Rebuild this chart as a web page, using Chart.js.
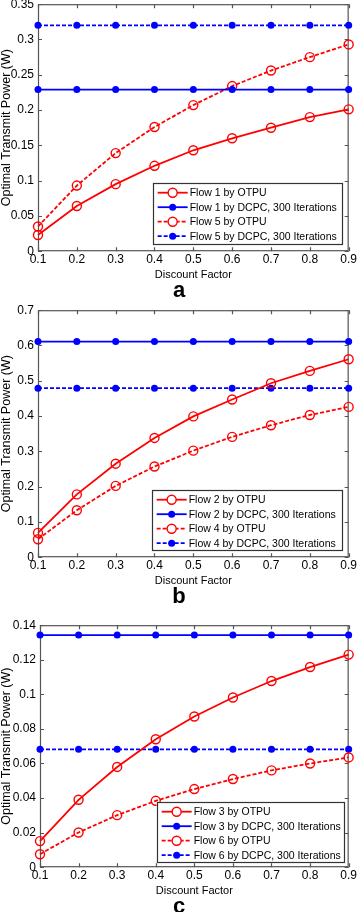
<!DOCTYPE html>
<html>
<head>
<meta charset="utf-8">
<script src="https://cdn.jsdelivr.net/npm/chart.js@4.4.1/dist/chart.umd.min.js"></script>
<style>
  html, body { margin: 0; padding: 0; background: #fff; overflow: hidden; }
  .panel { position: absolute; left: 0; width: 358px; }
</style>
</head>
<body>
<div class="panel" style="top:-7px;height:312px"><canvas id="chartA"></canvas></div>
<div class="panel" style="top:299px;height:312px"><canvas id="chartB"></canvas></div>
<div class="panel" style="top:614px;height:307px"><canvas id="chartC"></canvas></div>
<script>
// x values shared by all three panels
const discountFactor = [0.1, 0.2, 0.3, 0.4, 0.5, 0.6, 0.7, 0.8, 0.9];

// panel a
const flow1Otpu = [0.023, 0.064, 0.095, 0.121, 0.143, 0.160, 0.175, 0.190, 0.201];
const flow1Dcpc = [0.229, 0.229, 0.229, 0.229, 0.229, 0.229, 0.229, 0.229, 0.229];
const flow5Otpu = [0.035, 0.093, 0.139, 0.176, 0.207, 0.234, 0.256, 0.275, 0.293];
const flow5Dcpc = [0.320, 0.320, 0.320, 0.320, 0.320, 0.320, 0.320, 0.320, 0.320];

// panel b
const flow2Otpu = [0.069, 0.178, 0.265, 0.338, 0.399, 0.447, 0.493, 0.528, 0.561];
const flow2Dcpc = [0.611, 0.611, 0.611, 0.611, 0.611, 0.611, 0.611, 0.611, 0.611];
const flow4Otpu = [0.051, 0.133, 0.202, 0.257, 0.302, 0.341, 0.374, 0.403, 0.426];
const flow4Dcpc = [0.479, 0.479, 0.479, 0.479, 0.479, 0.479, 0.479, 0.479, 0.479];

// panel c
const flow3Otpu = [0.0151, 0.0390, 0.0580, 0.0740, 0.0872, 0.0982, 0.1077, 0.1158, 0.1230];
const flow3Dcpc = [0.1343, 0.1343, 0.1343, 0.1343, 0.1343, 0.1343, 0.1343, 0.1343, 0.1343];
const flow6Otpu = [0.0075, 0.0201, 0.0301, 0.0384, 0.0452, 0.0510, 0.0560, 0.0600, 0.0635];
const flow6Dcpc = [0.0682, 0.0682, 0.0682, 0.0682, 0.0682, 0.0682, 0.0682, 0.0682, 0.0682];

const RED = '#ff0000';
const BLUE = '#0000ff';
const FRAME = '#555555';
const FONT = "'Liberation Sans', Arial, sans-serif";

function toPoints(ys) {
  return ys.map((y, i) => ({ x: discountFactor[i], y: y }));
}

function otpu(label, ys, dashed) {
  return {
    label: label,
    data: toPoints(ys),
    borderColor: RED,
    backgroundColor: 'rgba(0,0,0,0)',
    borderWidth: 1.8,
    borderDash: dashed ? [4, 2] : [],
    pointStyle: 'circle',
    pointRadius: 4.5,
    pointBorderWidth: 1.4,
    pointBorderColor: RED,
    pointBackgroundColor: 'rgba(0,0,0,0)',
    tension: 0,
    clip: false
  };
}

function dcpc(label, ys, dashed) {
  return {
    label: label,
    data: toPoints(ys),
    borderColor: BLUE,
    backgroundColor: BLUE,
    borderWidth: 1.8,
    borderDash: dashed ? [4, 2] : [],
    pointStyle: 'circle',
    pointRadius: 3.5,
    pointBorderWidth: 0,
    pointBackgroundColor: BLUE,
    tension: 0,
    clip: false
  };
}

// matlab style box, inward ticks and the legend in the lower right corner
const matlabAxes = {
  id: 'matlabAxes',
  beforeDatasetsDraw(chart) {
    const ctx = chart.ctx;
    const a = chart.chartArea;
    const xs = chart.scales.x, ys = chart.scales.y;
    ctx.save();
    ctx.strokeStyle = FRAME;
    ctx.lineWidth = 1.2;
    ctx.strokeRect(a.left + 0.5, a.top + 0.5, a.right - a.left - 1, a.bottom - a.top - 1);
    const len = 4;
    ctx.beginPath();
    xs.ticks.forEach(t => {
      const px = Math.round(xs.getPixelForValue(t.value)) + 0.5;
      ctx.moveTo(px, a.bottom); ctx.lineTo(px, a.bottom - len);
      ctx.moveTo(px, a.top); ctx.lineTo(px, a.top + len);
    });
    ys.ticks.forEach(t => {
      const py = Math.round(ys.getPixelForValue(t.value)) + 0.5;
      ctx.moveTo(a.left, py); ctx.lineTo(a.left + len, py);
      ctx.moveTo(a.right, py); ctx.lineTo(a.right - len, py);
    });
    ctx.stroke();
    ctx.restore();
  },
  afterDraw(chart, args, opts) {
    const ctx = chart.ctx;
    const a = chart.chartArea;
    const w = opts.width, h = opts.height;
    const x0 = a.right - opts.inset - w;
    const y0 = a.bottom - opts.inset - h;
    ctx.save();
    ctx.fillStyle = '#fff';
    ctx.fillRect(x0, y0, w, h);
    ctx.strokeStyle = '#333';
    ctx.lineWidth = 1.2;
    ctx.strokeRect(Math.round(x0) + 0.5, Math.round(y0) + 0.5, w, h);
    ctx.font = '10.5px ' + FONT;
    ctx.textBaseline = 'middle';
    ctx.textAlign = 'left';
    chart.data.datasets.forEach((ds, i) => {
      const cy = y0 + 9.5 + i * 14.5;
      const lx1 = x0 + 5, lx2 = x0 + 35;
      ctx.strokeStyle = ds.borderColor;
      ctx.lineWidth = ds.borderWidth;
      ctx.setLineDash(ds.borderDash);
      ctx.beginPath();
      ctx.moveTo(lx1, cy); ctx.lineTo(lx2, cy);
      ctx.stroke();
      ctx.setLineDash([]);
      const mx = (lx1 + lx2) / 2;
      ctx.beginPath();
      ctx.arc(mx, cy, ds.pointRadius, 0, Math.PI * 2);
      if (ds.pointBorderWidth > 0) {
        ctx.fillStyle = '#fff';
        ctx.fill();
        ctx.lineWidth = ds.pointBorderWidth;
        ctx.strokeStyle = ds.pointBorderColor;
        ctx.stroke();
      } else {
        ctx.fillStyle = ds.pointBackgroundColor;
        ctx.fill();
      }
      ctx.fillStyle = '#000';
      ctx.fillText(ds.label, lx2 + 2, cy + 0.5);
    });
    ctx.restore();
  }
};

function makePanel(id, letter, datasets, yMax, yStep, leftWidth, legend) {
  const ctx = document.getElementById(id).getContext('2d');
  return new Chart(ctx, {
    type: 'line',
    data: { datasets: datasets },
    plugins: [matlabAxes],
    options: {
      responsive: true,
      maintainAspectRatio: false,
      animation: false,
      layout: { padding: { left: 0, right: 0, top: 0, bottom: 0 } },
      plugins: {
        legend: { display: false },
        tooltip: { enabled: false },
        title: {
          display: true,
          position: 'bottom',
          text: letter,
          color: '#000',
          font: { family: FONT, size: 22, weight: 'bold', lineHeight: 0.9 },
          padding: { top: 0, bottom: 4 }
        },
        matlabAxes: legend
      },
      scales: {
        x: {
          type: 'linear',
          min: 0.1,
          max: 0.9,
          grid: { display: false, drawTicks: false },
          border: { display: false },
          ticks: {
            stepSize: 0.1,
            padding: 1,
            color: '#000',
            font: { family: FONT, size: 12 },
            maxRotation: 0,
            callback: v => v.toFixed(1)
          },
          title: {
            display: true,
            text: 'Discount Factor',
            color: '#000',
            font: { family: FONT, size: 11 },
            padding: { top: 0, bottom: 0 }
          },
          afterFit: s => { s.height = 30; }
        },
        y: {
          min: 0,
          max: yMax,
          grid: { display: false, drawTicks: false },
          border: { display: false },
          ticks: {
            stepSize: yStep,
            padding: 4,
            color: '#000',
            font: { family: FONT, size: 12 },
            // matlab drops trailing zeros: 0.3 not 0.30
            callback: v => String(parseFloat(v.toFixed(4)))
          },
          title: {
            display: true,
            text: 'Optimal Transmit Power (W)',
            color: '#000',
            font: { family: FONT, size: 12.5, lineHeight: 1 },
            padding: { top: 0, bottom: 0 }
          },
          afterFit: s => { s.width = leftWidth; }
        }
      }
    }
  });
}

makePanel('chartA', 'a', [
  otpu('Flow 1 by OTPU', flow1Otpu, false),
  dcpc('Flow 1 by DCPC, 300 Iterations', flow1Dcpc, false),
  otpu('Flow 5 by OTPU', flow5Otpu, true),
  dcpc('Flow 5 by DCPC, 300 Iterations', flow5Dcpc, true)
], 0.35, 0.05, 38, { width: 189, height: 61, inset: 7 });

makePanel('chartB', 'b', [
  otpu('Flow 2 by OTPU', flow2Otpu, false),
  dcpc('Flow 2 by DCPC, 300 Iterations', flow2Dcpc, false),
  otpu('Flow 4 by OTPU', flow4Otpu, true),
  dcpc('Flow 4 by DCPC, 300 Iterations', flow4Dcpc, true)
], 0.7, 0.1, 38, { width: 190, height: 60, inset: 7 });

makePanel('chartC', 'c', [
  otpu('Flow 3 by OTPU', flow3Otpu, false),
  dcpc('Flow 3 by DCPC, 300 Iterations', flow3Dcpc, false),
  otpu('Flow 6 by OTPU', flow6Otpu, true),
  dcpc('Flow 6 by DCPC, 300 Iterations', flow6Dcpc, true)
], 0.14, 0.02, 40, { width: 187, height: 60, inset: 5 });
</script>
</body>
</html>
